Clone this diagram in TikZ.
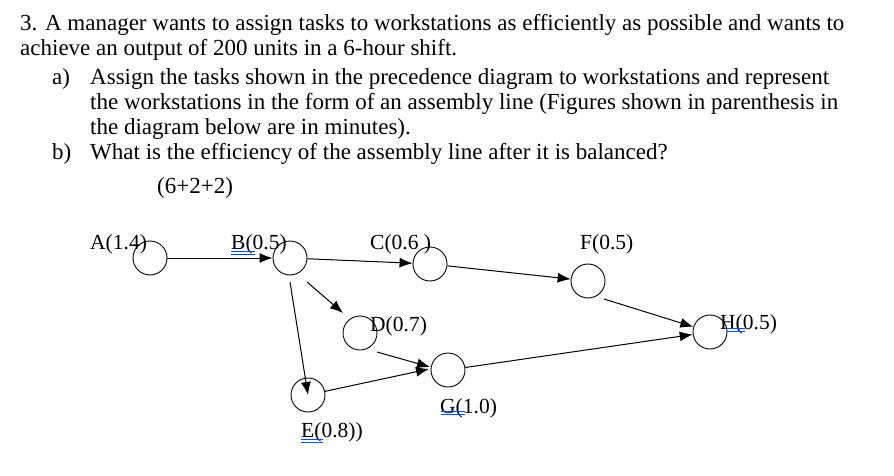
\documentclass[tikz,border=0pt]{standalone}
\usepackage{fontspec}
\setmainfont{Liberation Serif}
\tikzset{
 st/.style={circle,draw,line width=0.9pt,minimum size=34pt,inner sep=0pt},
 lab/.style={anchor=base west,inner sep=0pt,font=\fontsize{21.5pt}{25pt}\selectfont},
 txt/.style={anchor=base west,inner sep=0pt,font=\fontsize{23pt}{27pt}\selectfont},
 ar/.style={-{Latex[length=13pt,width=10pt]},line width=1pt},
 ul/.style={draw=blue!70!cyan,line width=1pt}
}
\usetikzlibrary{arrows.meta}
\begin{document}
\begin{tikzpicture}[x=1pt,y=-1pt]
\useasboundingbox (0,0) rectangle (894,476);
\node[txt] (l1) at (20,31) {3. A manager wants to assign tasks to workstations as efficiently as possible and wants to};
\node[txt] (l2) at (20,56) {achieve an output of 200 units in a 6-hour shift.};
\node[txt] (l3a) at (52,85) {a)};
\node[txt] (l3) at (90,85) {Assign the tasks shown in the precedence diagram to workstations and represent};
\node[txt] (l4) at (90,110) {the workstations in the form of an assembly line (Figures shown in parenthesis in};
\node[txt] (l5) at (90,135) {the diagram below are in minutes).};
\node[txt] (l6a) at (52,160) {b)};
\node[txt] (l6) at (90,160) {What is the efficiency of the assembly line after it is balanced?};
\node[txt] (l7) at (157,193) {(6+2+2)};

\node[st] (A) at (150,258) {};
\node[st] (B) at (290,258) {};
\node[st] (C) at (430,264) {};
\node[st] (D) at (360,333) {};
\node[st] (E) at (308,395) {};
\node[st] (G) at (448,370) {};
\node[st] (F) at (588,281) {};
\node[st] (H) at (710,332) {};

\node[lab] (lA) at (90,249) {A(1.4)};
\node[lab] (lB) at (231,249) {B(0.5)};
\node[lab] (lC) at (370,249) {C(0.6 )};
\node[lab] (lF) at (580,249) {F(0.5)};
\node[lab] (lD) at (370,331) {D(0.7)};
\node[lab] (lG) at (440,413) {G(1.0)};
\node[lab] (lE) at (301,437) {E(0.8))};
\node[lab] (lH) at (720,329) {H(0.5)};
\coordinate (uB) at (231,251); \draw[ul] (uB) -- ++(24,0) (uB)++(0,3) -- ++(24,0);
\coordinate (uE) at (301,439); \draw[ul] (uE) -- ++(22,0) (uE)++(0,3) -- ++(22,0);
\coordinate (uG) at (441,411); \draw[ul] (uG) -- ++(24,0) (uG)++(0,3) -- ++(24,0);
\coordinate (uH) at (727,328); \draw[ul] (uH) -- ++(18,0) (uH)++(0,3) -- ++(18,0);

\draw[ar] (A) -- (B);
\draw[ar] (B) -- (C);
\draw[ar] ([shift={(17,24)}]B.center) -- ([shift={(-17,-20)}]D.center);
\draw[ar] ([shift={(0,24)}]B.center) -- (E.center);
\draw[ar] ([shift={(17,19)}]D.center) -- ([shift={(-18,-3)}]G.center);
\draw[ar] (E) -- ([shift={(-19,-1)}]G.center);
\draw[ar] (C) -- (F);
\draw[ar] ([shift={(16,18)}]F.center) -- (H);
\draw[ar] (G) -- (H);
\end{tikzpicture}
\end{document}
